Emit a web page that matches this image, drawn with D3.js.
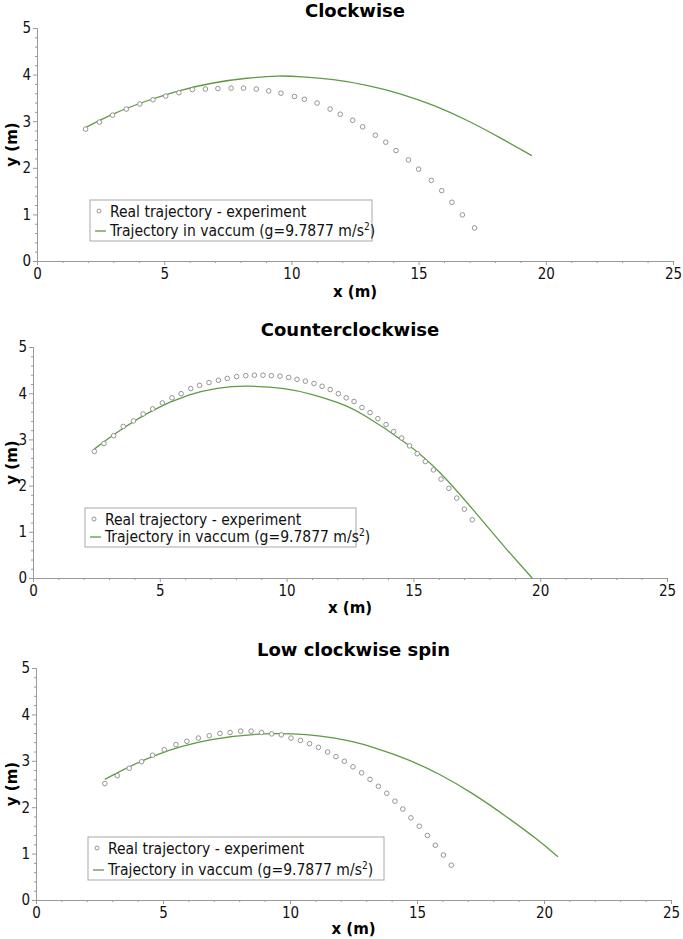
<!DOCTYPE html>
<head>
    <title>Trajectories</title>
    <meta charset="utf-8">
    <script src="https://d3js.org/d3.v7.min.js"></script>
</head>
<body>
    <svg class="chart" width="683" height="939"></svg>
</body>

<script>
// ---- data ----
var titles = ["Clockwise", "Counterclockwise", "Low clockwise spin"];
var legendLabels = ["Real trajectory - experiment", "Trajectory in vaccum (g=9.7877 m/s"];
var xTicks = [0, 5, 10, 15, 20, 25];
var yTicks = [0, 1, 2, 3, 4, 5];

// clockwise
var cwRealX = [1.91,2.45,2.97,3.51,4.04,4.56,5.06,5.58,6.11,6.62,7.11,7.63,8.12,8.62,9.11,9.59,10.12,10.51,11.01,11.52,11.92,12.41,12.80,13.30,13.71,14.11,14.60,15.00,15.50,15.91,16.31,16.72,17.20];
var cwRealY = [2.83,2.98,3.13,3.26,3.37,3.46,3.54,3.61,3.68,3.69,3.70,3.71,3.71,3.69,3.65,3.60,3.53,3.47,3.39,3.26,3.15,3.02,2.88,2.70,2.55,2.37,2.17,1.97,1.73,1.51,1.26,0.99,0.71];
var cwVacX = [1.89,3.00,4.31,5.62,6.93,8.24,9.55,10.34,11.65,12.96,14.27,15.58,16.89,18.20,19.45];
var cwVacY = [2.86,3.17,3.44,3.67,3.83,3.93,3.98,3.96,3.90,3.78,3.60,3.35,3.03,2.65,2.26];

// counterclockwise
var ccwRealX = [2.42,2.80,3.18,3.56,3.96,4.34,4.72,5.10,5.48,5.84,6.22,6.57,6.94,7.31,7.66,8.03,8.39,8.73,9.07,9.40,9.74,10.08,10.41,10.74,11.08,11.40,11.72,12.04,12.35,12.66,12.97,13.29,13.60,13.92,14.22,14.54,14.85,15.15,15.47,15.79,16.09,16.40,16.71,17.01,17.32];
var ccwRealY = [2.74,2.91,3.08,3.28,3.40,3.55,3.66,3.79,3.90,3.99,4.10,4.17,4.23,4.28,4.32,4.36,4.38,4.39,4.39,4.38,4.37,4.34,4.30,4.26,4.21,4.15,4.08,3.99,3.90,3.82,3.69,3.58,3.45,3.32,3.17,3.03,2.86,2.69,2.52,2.34,2.14,1.94,1.73,1.49,1.26];
var ccwVacX = [2.42,3.18,4.72,6.22,7.24,8.43,10.0,11.0,12.1,12.89,14.85,16.05,17.36,18.68,19.68];
var ccwVacY = [2.79,3.11,3.66,3.99,4.12,4.17,4.11,3.98,3.79,3.60,2.89,2.31,1.48,0.61,0.0];

// low clockwise spin
var lowRealX = [2.71,3.20,3.67,4.16,4.59,5.05,5.51,5.94,6.39,6.82,7.24,7.64,8.06,8.47,8.88,9.28,9.66,10.04,10.41,10.77,11.12,11.48,11.81,12.14,12.48,12.82,13.15,13.48,13.81,14.13,14.44,14.76,15.09,15.41,15.72,16.04,16.35];
var lowRealY = [2.51,2.68,2.84,2.98,3.12,3.24,3.35,3.42,3.49,3.54,3.59,3.61,3.64,3.64,3.61,3.58,3.56,3.49,3.44,3.37,3.29,3.19,3.09,2.99,2.87,2.74,2.60,2.45,2.30,2.13,1.96,1.77,1.59,1.39,1.18,0.97,0.75];
var lowVacX = [2.71,4.59,6.85,9.47,11.96,13.27,14.58,15.89,17.20,18.52,19.83,20.55];
var lowVacY = [2.60,3.14,3.49,3.63,3.50,3.30,3.05,2.72,2.30,1.80,1.27,0.93];

// ---- layout for each panel ----
var layout = [
    {left: 37, right: 673, top: 28,  bottom: 261, titleY: 17,  xlabY: 297, leg: {x: 90, y: 200, w: 282, h: 41}},
    {left: 33, right: 667, top: 347, bottom: 578, titleY: 336, xlabY: 613, leg: {x: 85, y: 508, w: 271, h: 39}},
    {left: 36, right: 671, top: 668, bottom: 900, titleY: 656, xlabY: 934, leg: {x: 88, y: 837, w: 296, h: 43}}
];

var series = [
    [cwRealX, cwRealY, cwVacX, cwVacY],
    [ccwRealX, ccwRealY, ccwVacX, ccwVacY],
    [lowRealX, lowRealY, lowVacX, lowVacY]
];

var green = "#5f9a45";
var axisCol = "#9a9a9a";

var chart = d3.select(".chart").style("background", "white");

function zip(xs, ys) {
    return xs.map(function(x, i) { return {x: x, y: ys[i]}; });
}

titles.forEach(function(title, p) {
    var L = layout[p];
    var s = series[p];
    var x = d3.scaleLinear().domain([0, 25]).range([L.left, L.right]);
    var y = d3.scaleLinear().domain([0, 5]).range([L.bottom, L.top]);
    var g = chart.append("g");

    // minor ticks
    var xMinor = d3.range(0, 26, 1).filter(function(v) { return v % 5 != 0; });
    var yMinor = d3.range(0, 5.01, 0.2).filter(function(v) { return Math.abs(v - Math.round(v)) > 0.01; });

    g.append("g").attr("class", "xAxis")
        .attr("transform", "translate(0," + L.bottom + ")")
        .call(d3.axisBottom(x).tickValues(xMinor).tickSize(2).tickFormat(""));
    g.append("g").attr("class", "xAxis")
        .attr("transform", "translate(0," + L.bottom + ")")
        .call(d3.axisBottom(x).tickValues(xTicks).tickSize(4).tickPadding(3).tickSizeOuter(0).tickFormat(d3.format("d")));
    g.append("g").attr("class", "yAxis")
        .attr("transform", "translate(" + L.left + ",0)")
        .call(d3.axisLeft(y).tickValues(yMinor).tickSize(2).tickFormat(""));
    g.append("g").attr("class", "yAxis")
        .attr("transform", "translate(" + L.left + ",0)")
        .call(d3.axisLeft(y).tickValues(yTicks).tickSize(4).tickPadding(2).tickSizeOuter(0).tickFormat(d3.format("d")));

    g.selectAll(".xAxis path, .yAxis path, .xAxis line, .yAxis line").attr("stroke", axisCol);
    g.selectAll(".xAxis text, .yAxis text")
        .attr("fill", "#111")
        .style("font-family", "'DejaVu Sans Condensed', 'DejaVu Sans', sans-serif")
        .style("font-stretch", "condensed")
        .style("font-size", "15px");

    // title + axis labels
    g.append("text")
        .attr("x", (L.left + L.right) / 2)
        .attr("y", L.titleY)
        .attr("class", "title")
        .text(title);
    g.append("text")
        .attr("x", (L.left + L.right) / 2)
        .attr("y", L.xlabY)
        .attr("class", "axlab")
        .text("x (m)");
    g.append("text")
        .attr("transform", "translate(17," + ((L.top + L.bottom) / 2) + ") rotate(-90)")
        .attr("class", "axlab")
        .text("y (m)");

    // vacuum trajectory
    var line = d3.line()
        .x(function(d) { return x(d.x); })
        .y(function(d) { return y(d.y); })
        .curve(d3.curveBasis);
    g.append("path")
        .datum(zip(s[2], s[3]))
        .attr("d", line)
        .attr("fill", "none")
        .attr("stroke", green)
        .attr("stroke-width", 1.3);

    // experiment points
    g.selectAll("circle.pt")
        .data(zip(s[0], s[1]))
        .enter().append("circle")
        .attr("class", "pt")
        .attr("cx", function(d) { return x(d.x); })
        .attr("cy", function(d) { return y(d.y); })
        .attr("r", 2.3)
        .attr("fill", "white")
        .attr("stroke", "#8a8a8a")
        .attr("stroke-width", 0.9);

    // legend
    var lg = g.append("g").attr("transform", "translate(" + L.leg.x + "," + L.leg.y + ")");
    lg.append("rect")
        .attr("width", L.leg.w)
        .attr("height", L.leg.h)
        .attr("fill", "white")
        .attr("stroke", "#a8a8a8");
    lg.append("circle")
        .attr("cx", 9).attr("cy", 11).attr("r", 2)
        .attr("fill", "white").attr("stroke", "#8a8a8a").attr("stroke-width", 0.9);
    lg.append("line")
        .attr("x1", 5).attr("x2", 16)
        .attr("y1", L.leg.h - 10).attr("y2", L.leg.h - 10)
        .attr("stroke", green).attr("stroke-width", 1.3);
    lg.append("text").attr("class", "legtext")
        .attr("x", 20).attr("y", 17)
        .text(legendLabels[0]);
    var t2 = lg.append("text").attr("class", "legtext")
        .attr("x", 20).attr("y", L.leg.h - 5)
        .text(legendLabels[1]);
    t2.append("tspan").attr("dy", -6).style("font-size", "10px").text("2");
    t2.append("tspan").attr("dy", 6).text(")");
});
</script>

<style>
    body { margin: 0; background: white; }
    .title {
        font-family: 'DejaVu Sans', sans-serif;
        font-weight: bold;
        font-size: 18px;
        text-anchor: middle;
        fill: #000;
    }
    .axlab {
        font-family: 'DejaVu Sans', sans-serif;
        font-weight: bold;
        font-size: 15px;
        text-anchor: middle;
        fill: #000;
    }
    .legtext {
        font-family: 'DejaVu Sans Condensed', 'DejaVu Sans', sans-serif;
        font-stretch: condensed;
        font-size: 15.5px;
        fill: #111;
    }
</style>
